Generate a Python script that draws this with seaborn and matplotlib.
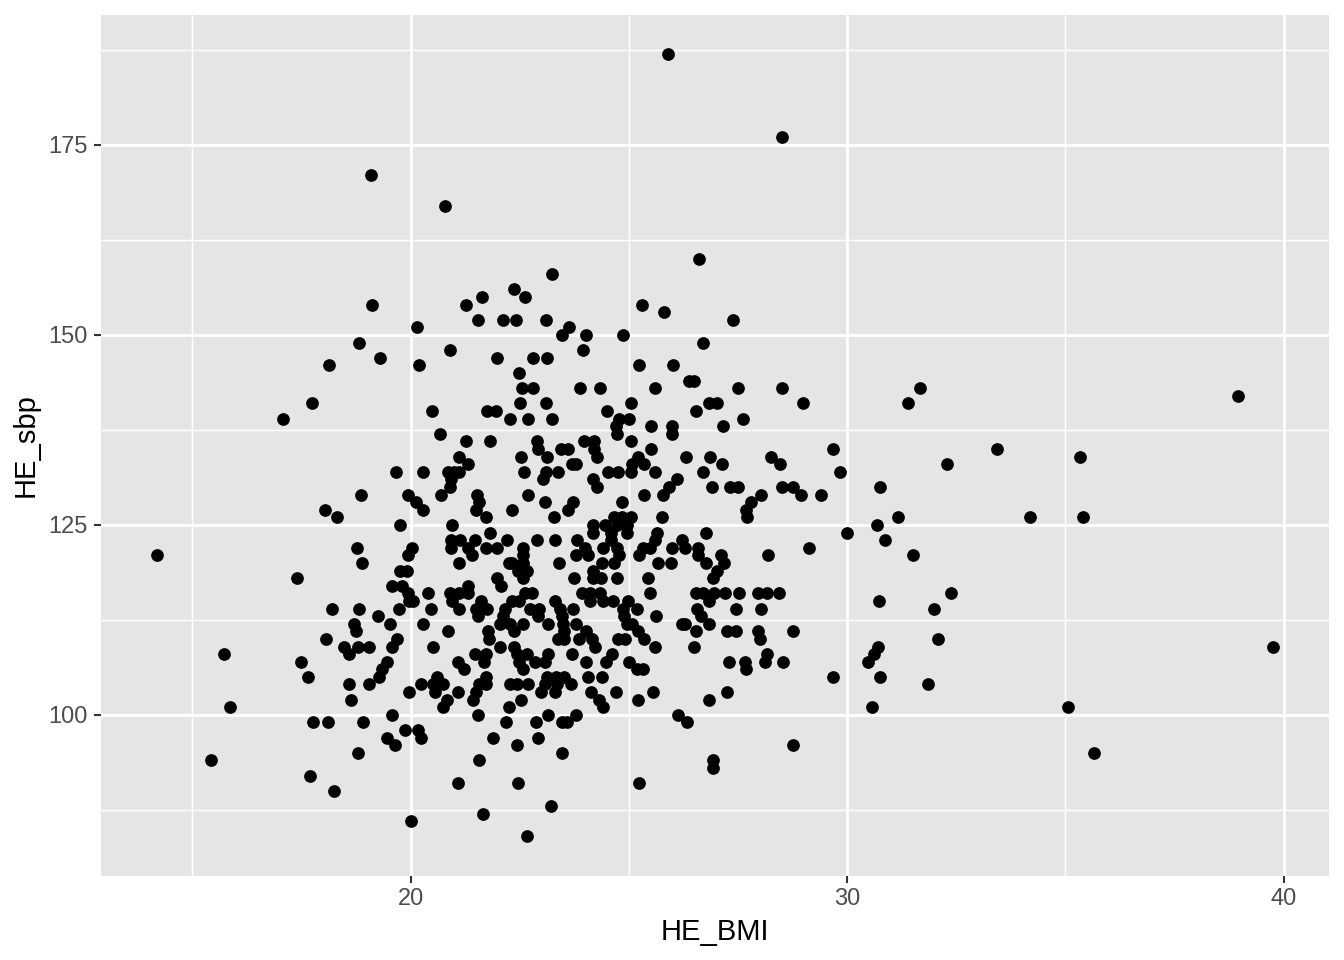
import matplotlib
matplotlib.use("Agg")
import matplotlib.pyplot as plt
from matplotlib.ticker import MultipleLocator
import pandas as pd
import seaborn as sns

# systolic pressure levels, and the BMI values read at each level
sbp_levels = [187, 176, 171, 167, 160, 158, 156, 155, 154, 153, 152, 151, 150, 149, 148, 147, 146, 145, 144, 143,
              142, 141, 140, 139, 138, 137, 136, 135, 134, 133, 132, 131, 130, 129, 128, 127, 126, 125, 124, 123,
              122, 121, 120, 119, 118, 117, 116, 115, 114, 113, 112, 111, 110, 109, 108, 107, 106, 105, 104, 103,
              102, 101, 100, 99, 98, 97, 96, 95, 94, 93, 92, 91, 90, 88, 87, 86, 84]
bmi_by_level = [
    [25.9], [28.5], [19.1], [20.8], [26.61], [23.23], [22.36], [21.64, 22.63], [19.11, 21.28, 25.3], [25.81],
    [21.54, 22.11, 22.41, 23.1, 27.39], [20.14, 23.62], [23.47, 24.01, 24.87], [18.83, 26.69], [20.91, 23.96],
    [19.3, 21.97, 22.81, 23.13], [18.13, 20.2, 25.24, 26.02], [22.49], [26.38, 26.5],
    [22.56, 22.81, 23.89, 24.35, 25.59, 27.51, 28.51, 31.67], [38.95],
    [17.74, 22.5, 23.1, 25.04, 26.84, 27.01, 28.98, 31.4],
    [20.49, 21.76, 21.96, 24.49, 26.53],
    [17.08, 22.29, 22.7, 23.25, 24.78, 25.01, 27.61],
    [24.71, 25.5, 26.0, 27.16],
    [20.67, 24.74, 26.0],
    [21.27, 21.83, 22.9, 23.97, 24.2, 25.04],
    [22.93, 23.45, 23.61, 24.2, 25.52, 29.68, 33.44],
    [21.12, 22.52, 23.12, 24.27, 25.21, 26.3, 26.87, 28.25, 35.33],
    [21.32, 23.71, 23.79, 25.07, 25.34, 27.13, 28.47, 32.29],
    [19.66, 20.28, 20.87, 21.0, 21.12, 22.59, 23.11, 23.38, 24.52, 24.76, 25.04, 25.61, 26.69, 29.84],
    [20.93, 23.03, 24.19, 26.1],
    [20.91, 24.27, 25.93, 26.91, 27.32, 27.51, 28.51, 28.77, 30.76],
    [18.87, 19.94, 20.7, 21.53, 22.7, 25.34, 25.78, 28.03, 28.94, 29.4],
    [20.12, 21.56, 23.07, 23.73, 24.84, 27.79],
    [18.04, 20.28, 21.51, 22.32, 23.6, 27.68],
    [18.32, 21.74, 23.28, 24.65, 24.84, 25.05, 25.77, 27.7, 31.17, 34.19, 35.41],
    [19.75, 20.96, 24.17, 24.46, 24.74, 24.97, 30.69],
    [21.81, 24.17, 24.59, 24.96, 25.65, 26.76, 30.0],
    [20.93, 21.13, 21.48, 22.22, 22.9, 23.3, 23.82, 24.59, 25.6, 26.21, 30.87],
    [18.77, 20.03, 20.93, 21.32, 21.74, 21.97, 22.58, 24.0, 24.42, 24.74, 25.33, 25.49, 26.0, 26.29, 26.59, 29.13],
    [14.19, 19.95, 21.42, 22.58, 23.78, 24.06, 24.77, 25.23, 26.58, 27.12, 28.2, 31.51],
    [18.89, 21.12, 22.25, 22.32, 22.58, 23.41, 24.39, 24.66, 25.67, 25.97, 26.78, 27.18],
    [19.77, 19.91, 22.47, 22.66, 24.19, 27.01],
    [17.41, 21.99, 22.57, 23.75, 24.17, 24.36, 24.74, 25.43, 26.94],
    [19.57, 19.81, 21.32, 22.08],
    [19.94, 20.41, 20.9, 21.11, 21.32, 22.62, 22.79, 23.92, 24.11, 24.33, 25.48, 26.53, 26.71, 26.95, 27.2, 27.52,
     27.95, 28.17, 28.45, 32.38],
    [19.97, 20.05, 20.94, 21.61, 22.32, 22.48, 23.32, 24.11, 24.42, 24.63, 24.99, 26.84, 30.73],
    [18.21, 18.81, 19.74, 20.48, 21.12, 21.51, 21.76, 22.16, 22.74, 22.95, 23.43, 23.72, 24.86, 25.18, 26.56, 27.45,
     28.02, 32.0],
    [19.25, 21.54, 22.12, 22.93, 23.46, 24.88, 25.63, 26.65],
    [18.7, 19.52, 20.29, 22.06, 22.28, 22.58, 23.15, 23.5, 23.78, 24.95, 25.07, 26.21, 26.29, 26.84],
    [18.74, 20.87, 21.77, 22.38, 23.52, 24.02, 25.2, 26.55, 27.26, 27.46, 27.95, 28.77],
    [18.06, 19.7, 21.8, 23.37, 23.52, 23.86, 24.15, 24.75, 24.92, 25.36, 28.0, 32.08],
    [18.48, 18.8, 19.05, 19.57, 20.51, 22.06, 22.38, 24.23, 25.6, 26.49, 30.71, 39.76],
    [15.73, 18.59, 21.47, 21.73, 22.45, 22.67, 23.15, 23.7, 24.62, 28.17, 30.62],
    [17.48, 19.45, 21.09, 21.68, 22.48, 22.85, 23.07, 24.02, 24.47, 25.0, 27.29, 27.67, 28.13, 28.54, 30.48],
    [19.34, 21.22, 22.58, 25.18, 25.32, 27.69],
    [17.66, 19.28, 20.6, 21.72, 23.13, 23.33, 23.52, 24.07, 24.38, 29.68, 30.76],
    [18.59, 19.04, 20.23, 20.51, 20.75, 21.57, 21.74, 22.28, 22.43, 22.7, 23.08, 23.35, 23.67, 31.86],
    [19.96, 20.57, 21.09, 21.51, 22.98, 23.32, 24.13, 24.7, 25.55, 27.25],
    [18.64, 20.83, 21.43, 22.54, 24.31, 25.21, 26.84],
    [15.87, 20.74, 22.25, 24.42, 30.57, 35.06],
    [19.57, 21.54, 23.15, 23.8, 26.12],
    [17.77, 18.1, 18.91, 22.18, 22.88, 23.46, 23.59, 26.33],
    [19.87, 20.18],
    [19.46, 20.25, 21.89, 22.93],
    [19.65, 22.45, 28.76],
    [18.8, 23.48, 35.66],
    [15.43, 21.58, 26.93],
    [26.94],
    [17.7],
    [21.08, 22.47, 25.23],
    [18.25],
    [23.22],
    [21.66],
    [20.0],
    [22.67],
]

he_sbp = []
he_bmi = []
for level, values in zip(sbp_levels, bmi_by_level):
    for v in values:
        he_sbp.append(level)
        he_bmi.append(v)
df = pd.DataFrame({"HE_BMI": he_bmi, "HE_sbp": he_sbp})

sns.set_theme(style="darkgrid", rc={
    "axes.facecolor": "#E5E5E5",
    "grid.color": "white",
    "xtick.bottom": True,
    "ytick.left": True,
})
plt.rcParams["font.family"] = ["Liberation Sans", "DejaVu Sans"]

fig = plt.figure(figsize=(13.44, 9.6), dpi=100)
ax = fig.add_axes([101 / 1344, 1 - 876 / 960, (1329 - 101) / 1344, (876 - 15) / 960])

sns.scatterplot(data=df, x="HE_BMI", y="HE_sbp", color="black", s=84, linewidth=0, ax=ax, zorder=3)

ax.set_xlim(12.91, 41.04)
ax.set_ylim(78.8, 192.1)
ax.xaxis.set_major_locator(MultipleLocator(10))
ax.yaxis.set_major_locator(MultipleLocator(25))
ax.set_xticks([15, 25, 35], minor=True)
ax.set_yticks([87.5, 112.5, 137.5, 162.5, 187.5], minor=True)

ax.grid(which="major", color="white", linewidth=2.1)
ax.grid(which="minor", color="white", linewidth=1.05)
ax.tick_params(which="major", length=5, width=1.5, color="#333333", labelcolor="#4D4D4D", labelsize=17)
ax.tick_params(axis="x", which="major", pad=3.5)
ax.tick_params(axis="y", which="major", pad=4.5)
ax.tick_params(which="minor", length=0)
ax.set_axisbelow(True)
for spine in ax.spines.values():
    spine.set_visible(False)

ax.set_xlabel("HE_BMI", fontsize=21, color="black", labelpad=6)
ax.set_ylabel("HE_sbp", fontsize=21, color="black", labelpad=6)

fig.savefig("out.png", dpi=100)
